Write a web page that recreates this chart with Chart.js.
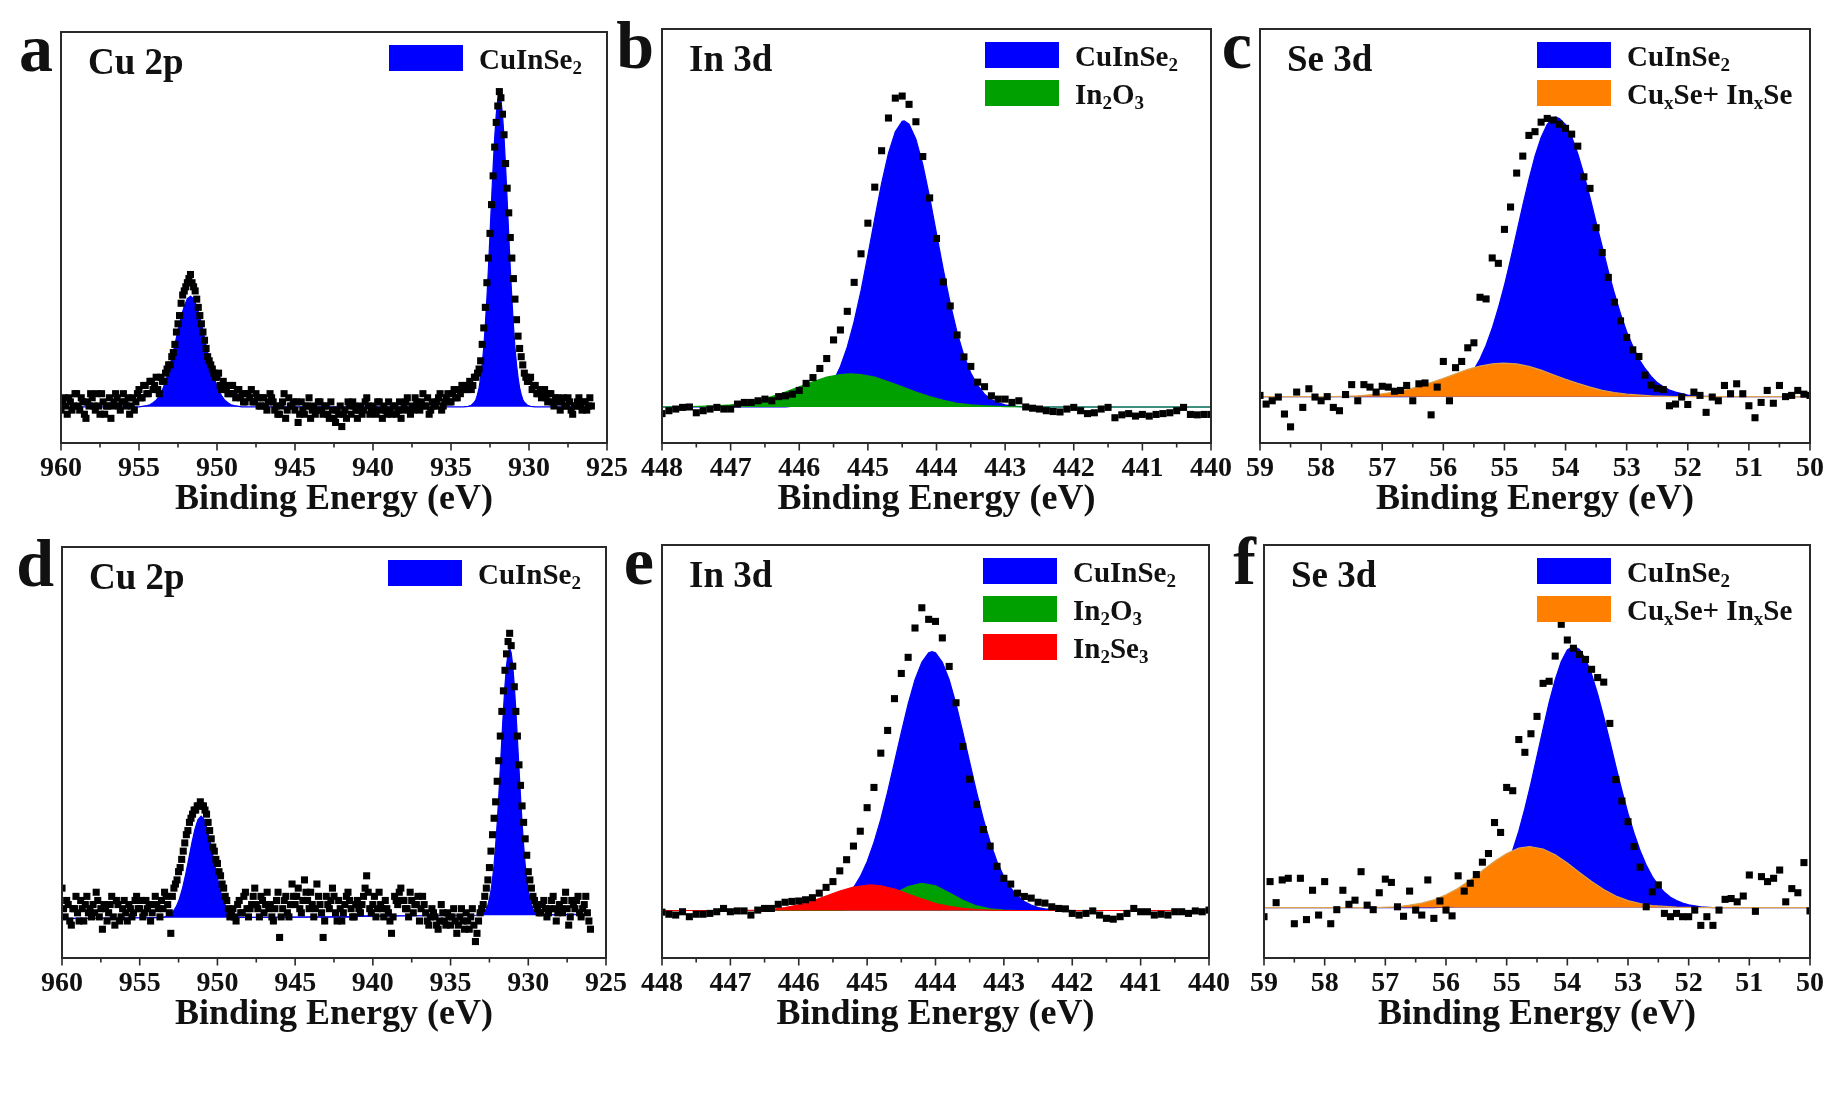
<!DOCTYPE html>
<html>
<head>
<meta charset="utf-8">
<script src="https://cdn.jsdelivr.net/npm/chart.js@4.4.1/dist/chart.umd.min.js"></script>
<style>
  body { margin: 0; background: #fff; }
  #fig { position: relative; width: 1832px; height: 1106px; background: #fff; }
  #fig canvas { position: absolute; }
</style>
</head>
<body>
<div id="fig"></div>
<script>
// measured spectra (counts in % of the plot height), uniform energy steps
const cuCountsA = [ // 960.0 -> 926.0, step -0.1 eV (one row per eV)
  8,10,11,9,7,11,10,8,9,12,
  12,9,8,11,10,7,6,10,9,12,
  11,9,8,12,9,7,12,10,7,9,
  9,11,6,9,10,12,11,9,8,10,
  12,10,9,11,7,9,11,8,10,12,
  13,11,11,14,14,12,12,15,15,13,
  14,16,13,12,16,15,15,17,18,19,
  19,21,22,24,27,29,31,34,36,37,
  38,39,40,41,39,38,37,35,33,31,
  29,27,25,23,21,20,19,18,17,16,
  16,17,14,13,15,14,13,12,12,14,
  14,12,11,13,13,11,12,10,10,12,
  12,11,13,10,10,12,11,9,9,11,
  11,9,8,10,12,11,10,8,9,7,
  7,9,10,12,6,8,11,9,9,10,
  8,10,5,7,10,8,7,9,9,11,
  6,8,9,7,8,10,10,8,7,9,
  9,7,6,10,8,6,5,8,7,9,
  4,7,8,6,10,9,7,10,9,8,
  6,8,9,7,8,10,11,9,7,8,
  9,8,7,10,10,8,6,9,8,7,
  10,8,7,9,9,7,8,10,6,8,
  9,10,11,8,7,9,8,11,10,9,
  8,10,12,9,9,11,7,8,10,9,
  9,10,11,12,8,9,10,11,12,10,
  10,12,13,11,11,13,12,14,14,13,
  13,14,15,13,14,16,16,17,18,20,
  24,28,33,39,45,51,58,65,72,78,
  82,85.5,84,80,75,68,62,56,50,45,
  40,35,30,26,23,21,19,17,16,15,
  15,16,13,14,14,12,12,13,11,12,
  13,11,10,12,12,10,9,11,11,10,
  8,10,11,9,9,11,10,8,7,9,
  9,10,11,9,8,10,10,8,9,11,
  9
];
const cuCountsD = [ // 960.0 -> 926.0, step -0.1 eV (one row per eV)
  17,12,10,14,13,9,8,12,12,15,
  11,9,14,12,9,13,15,11,12,10,
  13,11,16,14,10,12,7,13,12,9,
  11,13,15,10,8,14,13,9,10,12,
  14,11,9,13,12,10,11,14,15,12,
  12,14,10,11,14,12,13,9,11,13,
  15,13,12,10,14,12,16,15,13,11,
  6,15,17,18,19,21,22,24,26,28,
  30,31,33,34,35,36,36,37,37,38,
  37,37,36,35,33,31,29,27,26,24,
  23,21,20,18,17,15,14,12,10,11,
  12,10,9,13,14,11,11,15,16,12,
  10,12,13,15,17,13,12,10,15,14,
  11,13,16,12,13,10,9,12,14,16,
  5,10,12,14,15,11,10,13,18,15,
  13,15,17,12,11,14,19,16,14,12,
  16,13,10,12,18,15,13,11,5,9,
  15,13,12,14,17,15,11,9,14,12,
  9,11,13,15,16,14,12,10,10,13,
  14,12,11,13,15,17,20,16,12,11,
  13,15,10,12,16,13,12,10,14,12,
  11,9,6,10,15,14,13,16,17,14,
  14,12,12,10,16,14,11,13,13,15,
  9,12,15,13,11,9,8,10,12,11,
  10,8,7,9,13,11,9,8,11,10,
  8,10,12,9,6,8,10,12,9,7,
  11,9,7,10,12,8,4,6,9,11,
  12,13,15,17,19,22,26,30,34,38,
  43,48,54,60,65,70,74,77,79,76,
  71,66,60,54,47,42,37,33,29,25,
  21,19,17,15,14,13,12,11,11,13,
  14,12,10,11,12,14,15,12,9,11,
  13,12,11,14,16,12,8,10,14,13,
  12,14,15,11,10,12,13,15,11,9,
  7
];
const inCountsB = [ // 448.0 -> 440.0, step -0.1 eV
  7.1,7.8,8.2,8.6,8.7, 7.3,7.8,8.2,8.6,8.2,
  8.2,9.4,9.8,9.8,10.2, 10.6,10.2,11.2,11.4,11.8,
  12.7,14.4,15.8,18.0,20.4, 24.9,27.3,31.8,38.8,45.7,
  53.1,61.8,70.6,78.5,83.3, 83.8,81.8,77.6,69.2,59.2,
  49.4,38.9,33.1,26.1,20.8, 18.5,14.7,13.6,11.4,10.6,
  10.6,9.8,10.2,8.7,8.4, 8.2,7.8,7.6,7.5,8.2,
  8.6,7.8,7.1,7.3,8.2, 8.6,6.1,6.8,7.1,6.5,
  6.9,6.5,6.9,7.1,7.3, 7.8,8.6,6.9,6.8,6.9,
  6.9
];
const inCountsE = [ // 448.0 -> 440.0, step -0.1 eV
  11.1,10.6,10.4,11.2,10.0, 10.6,10.6,10.8,11.2,12.0,
  11.2,11.4,11.4,10.4,11.6, 12.0,12.0,13.0,13.5,13.7,
  13.8,14.1,14.6,15.7,17.1, 18.5,21.1,23.8,27.1,30.7,
  36.4,41.3,49.6,55.1,62.8, 68.9,72.8,79.9,84.8,82.0,
  81.5,77.5,70.6,61.8,51.2, 43.3,37.2,31.1,27.1,22.2,
  19.3,17.9,15.7,14.9,14.5, 13.5,13.3,12.4,12.0,11.9,
  10.8,10.4,10.8,11.4,10.4, 9.6,9.4,10.0,10.8,12.0,
  11.2,11.2,10.4,10.6,10.4, 11.2,11.2,10.8,11.4,11.2,
  11.6
];
const seCountsC = [ // 59.0 -> 50.0, step -0.1 eV
  11.5,9.4,10.2,11.1,7.0, 3.9,12.3,8.6,13.1,11.1,
  10.2,11.2,8.6,7.8,11.7, 14.1,10.2,14.1,13.5,12.3,
  13.7,13.5,12.5,12.7,13.9, 10.2,14.3,14.5,6.8,13.5,
  19.7,10.2,18.2,19.7,23.0, 24.2,35.2,34.8,44.7,43.4,
  51.6,57.0,65.2,69.3,74.3, 75.2,77.5,78.4,78.0,77.0,
  76.0,74.6,71.7,64.3,61.5, 52.0,46.0,40.0,34.0,29.5,
  25.5,22.5,20.9,16.4,14.0, 13.2,12.9,9.0,9.4,11.1,
  9.3,12.3,11.5,7.4,11.1, 10.2,13.9,11.9,14.3,11.9,
  9.0,6.1,9.8,12.7,9.6, 13.9,11.2,11.5,12.7,11.8,
  11.5
];
const seCountsF = [ // 59.0 -> 50.0, step -0.1 eV
  10.0,18.5,13.4,18.9,19.3, 8.3,19.3,9.3,16.4,10.4,
  18.5,8.3,11.7,16.4,13.0, 14.0,20.9,12.8,11.7,15.8,
  19.1,18.3,12.4,10.1,16.2, 11.6,10.4,18.9,9.6,13.8,
  11.6,10.2,19.9,16.2,18.1, 20.2,23.2,25.3,32.8,30.4,
  41.3,40.5,52.9,49.8,54.3, 58.5,66.5,67.0,73.1,80.8,
  77.0,75.0,73.5,72.3,69.9, 67.9,66.8,56.8,43.2,38.0,
  33.0,27.0,22.0,12.4,16.0, 17.7,10.8,10.0,10.8,10.0,
  10.0,11.6,7.9,10.0,7.9, 11.6,14.2,14.4,13.6,15.0,
  20.1,11.3,19.7,18.5,19.3, 21.3,13.6,16.8,15.8,23.1,
  11.4
];

// fitted components, [energy, %]
const cuFitA = [[960,8.8],[955.0,8.8],[954.5,9.1],[954.3,9.3],[954.1,9.8],[953.9,10.4],[953.7,11.5],[953.5,12.9],[953.3,14.9],[953.1,17.5],[952.9,20.5],[952.7,23.9],[952.5,27.4],[952.3,30.6],[952.1,33.3],[951.9,35.1],[951.7,35.7],[951.5,35.1],[951.3,33.3],[951.1,30.6],[950.9,27.4],[950.7,23.9],[950.5,20.5],[950.3,17.5],[950.1,14.9],[949.9,12.9],[949.7,11.5],[949.5,10.4],[949.3,9.8],[949.1,9.3],[948.9,9.1],[948.4,8.8],
  [934.2,8.8],[933.9,8.9],[933.7,9.2],[933.5,9.9],[933.4,10.6],[933.3,11.8],[933.2,13.4],[933.1,15.9],[933.0,19.1],[932.9,23.3],[932.8,28.7],[932.7,35.2],[932.6,42.6],[932.5,50.8],[932.4,59.1],[932.3,67.2],[932.2,74.3],[932.1,79.9],[932.0,83.6],[931.9,84.8],[931.8,83.6],[931.7,79.9],[931.6,74.3],[931.5,67.2],[931.4,59.1],[931.3,50.8],[931.2,42.6],[931.1,35.2],[931.0,28.7],[930.9,23.3],[930.8,19.1],[930.7,15.9],[930.6,13.4],[930.5,11.8],[930.4,10.6],[930.3,9.9],[930.1,9.2],[929.9,8.9],[929.6,8.8],[926,8.8]];
const cuFitD1 = [[960,9.6],[953.6,9.8],[953.25,10.2],[953.05,10.6],[952.85,11.3],[952.65,12.5],[952.45,14.3],[952.25,16.9],[952.05,20.2],[951.85,24.0],[951.65,27.9],[951.45,31.3],[951.25,33.7],[951.05,34.5],[950.85,33.7],[950.65,31.3],[950.45,27.9],[950.25,24.0],[950.05,20.2],[949.85,16.9],[949.65,14.3],[949.45,12.5],[949.25,11.3],[949.05,10.6],[948.85,10.2],[948.5,9.9],[941,10.1]];
const cuFitD2 = [[941,10.1],[933.4,10.4],[933.2,10.5],[933.0,10.7],[932.8,11.3],[932.7,12.0],[932.6,12.9],[932.5,14.4],[932.4,16.4],[932.3,19.2],[932.2,22.8],[932.1,27.4],[932.0,32.9],[931.9,39.3],[931.8,46.2],[931.7,53.4],[931.6,60.2],[931.5,66.3],[931.4,71.1],[931.3,74.3],[931.2,75.3],[931.1,74.3],[931.0,71.1],[930.9,66.3],[930.8,60.2],[930.7,53.4],[930.6,46.2],[930.5,39.3],[930.4,32.9],[930.3,27.4],[930.2,22.8],[930.1,19.2],[930.0,16.4],[929.9,14.4],[929.8,12.9],[929.7,12.0],[929.6,11.3],[929.4,10.7],[929.2,10.5],[929.0,10.5],[926,10.7]];
const inFitBBlue = [[448,8.7],[446.2,8.7],[446.0,9.0],[445.9,9.4],[445.8,10.0],[445.7,11.0],[445.6,12.5],[445.5,15.0],[445.4,18.5],[445.3,23.2],[445.2,29.4],[445.1,36.8],[445.0,45.3],[444.9,54.2],[444.8,62.7],[444.7,70.0],[444.6,75.2],[444.5,77.7],[444.47,77.8],[444.4,77.0],[444.3,73.4],[444.2,67.3],[444.1,59.4],[444.0,50.6],[443.9,41.8],[443.8,33.7],[443.7,26.7],[443.6,21.1],[443.5,16.9],[443.4,13.9],[443.3,11.8],[443.2,10.5],[443.1,9.7],[443.0,9.2],[442.9,8.9],[442.7,8.7],[440,8.7]];
const inFitBGreen = [[448,8.7],[447.6,8.8],[447.2,9.0],[447.0,9.2],[446.8,9.6],[446.6,10.3],[446.4,11.2],[446.2,12.3],[446.0,13.6],[445.8,14.8],[445.6,15.9],[445.4,16.5],[445.25,16.7],[445.1,16.5],[444.9,15.9],[444.7,14.8],[444.5,13.6],[444.3,12.3],[444.1,11.2],[443.9,10.3],[443.7,9.6],[443.5,9.2],[443.3,9.0],[443.0,8.8],[442.6,8.7],[440,8.7]];
const seFitCBlue = [[59,11.2],[56.6,11.2],[56.4,11.3],[56.2,11.5],[56.0,12.0],[55.9,12.5],[55.8,13.2],[55.7,14.3],[55.6,15.7],[55.5,17.7],[55.4,20.3],[55.3,23.6],[55.2,27.7],[55.1,32.6],[55.0,38.1],[54.9,44.3],[54.8,50.8],[54.7,57.4],[54.6,63.6],[54.5,69.3],[54.4,73.8],[54.3,77.0],[54.2,78.6],[54.16,78.7],[54.1,78.4],[54.0,76.9],[53.9,74.0],[53.8,69.9],[53.7,64.9],[53.6,59.3],[53.5,53.3],[53.4,47.4],[53.3,41.5],[53.2,36.1],[53.1,31.2],[53.0,26.9],[52.9,23.4],[52.8,20.3],[52.7,18.0],[52.6,16.1],[52.5,14.6],[52.4,13.6],[52.3,12.8],[52.2,12.3],[52.0,11.6],[51.8,11.3],[51.5,11.2],[50,11.2]];
const seFitCOrange = [[59,11.2],[57.8,11.2],[57.4,11.4],[57.0,11.9],[56.8,12.3],[56.6,12.9],[56.4,13.6],[56.2,14.6],[56.0,15.6],[55.8,16.7],[55.6,17.8],[55.4,18.6],[55.2,19.1],[55.02,19.3],[54.8,19.1],[54.6,18.5],[54.4,17.6],[54.2,16.5],[54.0,15.4],[53.8,14.4],[53.6,13.5],[53.4,12.7],[53.2,12.2],[53.0,11.8],[52.6,11.4],[52.2,11.2],[50,11.2]];
const inFitEBlue = [[448,11.5],[446.0,11.5],[445.7,11.9],[445.6,12.2],[445.5,12.8],[445.4,13.7],[445.3,15.0],[445.2,17.0],[445.1,19.7],[445.0,23.3],[444.9,28.0],[444.8,33.6],[444.7,40.2],[444.6,47.4],[444.5,54.6],[444.4,61.5],[444.3,67.4],[444.2,71.6],[444.1,73.9],[444.05,74.2],[444.0,73.9],[443.9,71.6],[443.8,67.4],[443.7,61.5],[443.6,54.6],[443.5,47.4],[443.4,40.2],[443.3,33.6],[443.2,28.0],[443.1,23.3],[443.0,19.7],[442.9,17.0],[442.8,15.0],[442.7,13.7],[442.6,12.8],[442.5,12.2],[442.4,11.9],[442.2,11.6],[442.0,11.5],[440,11.5]];
const inFitEGreen = [[448,11.5],[445.6,11.5],[445.4,11.6],[445.2,11.9],[445.0,12.5],[444.8,13.8],[444.6,15.6],[444.4,17.3],[444.2,18.1],[444.0,17.5],[443.8,15.8],[443.6,14.0],[443.4,12.6],[443.2,11.9],[443.0,11.6],[442.8,11.5],[440,11.5]];
const inFitERed = [[448,11.5],[447.0,11.5],[446.6,11.6],[446.4,11.8],[446.2,12.2],[446.0,12.9],[445.8,13.8],[445.6,15.0],[445.4,16.2],[445.2,17.2],[444.96,17.7],[444.8,17.5],[444.6,16.7],[444.4,15.5],[444.2,14.3],[444.0,13.2],[443.8,12.5],[443.6,12.0],[443.4,11.7],[443.0,11.5],[440,11.5]];
const seFitFBlue = [[59,12.2],[56.2,12.2],[55.8,12.5],[55.6,13.0],[55.5,13.5],[55.4,14.3],[55.3,15.4],[55.2,17.1],[55.1,19.3],[55.0,22.3],[54.9,26.1],[54.8,30.7],[54.7,36.2],[54.6,42.3],[54.5,48.9],[54.4,55.5],[54.3,61.9],[54.2,67.4],[54.1,71.8],[54.0,74.6],[53.9,75.5],[53.8,74.7],[53.7,72.4],[53.6,68.7],[53.5,63.9],[53.4,58.4],[53.3,52.5],[53.2,46.4],[53.1,40.5],[53.0,35.0],[52.9,30.2],[52.8,26.0],[52.7,22.5],[52.6,19.7],[52.5,17.6],[52.4,15.9],[52.3,14.7],[52.2,13.9],[52.1,13.3],[52.0,12.9],[51.8,12.4],[51.6,12.2],[50,12.2]];
const seFitFOrange = [[59,12.2],[57.2,12.2],[56.8,12.4],[56.6,12.8],[56.4,13.3],[56.2,14.1],[56.0,15.3],[55.8,16.9],[55.6,18.9],[55.4,21.2],[55.2,23.4],[55.0,25.3],[54.8,26.6],[54.62,27.0],[54.4,26.4],[54.2,25.0],[54.0,23.0],[53.8,20.7],[53.6,18.5],[53.4,16.6],[53.2,15.0],[53.0,13.9],[52.8,13.2],[52.6,12.7],[52.2,12.3],[51.8,12.2],[50,12.2]];

const FAM = '"Liberation Serif", "Times New Roman", Times, serif';
const BLUE = '#0000ff', GREEN = '#00a000', RED = '#ff0000', ORANGE = '#ff7f00';

const LEG_CIS = [['CuInSe', 0], ['2', 1]];
const LEG_INO = [['In', 0], ['2', 1], ['O', 0], ['3', 1]];
const LEG_INSE = [['In', 0], ['2', 1], ['Se', 0], ['3', 1]];
const LEG_CUSE = [['Cu', 0], ['x', 1], ['Se+ In', 0], ['x', 1], ['Se', 0]];

const panels = [
  { letter: 'a', title: 'Cu 2p', box: [61, 32, 607, 443], min: 925, max: 960, major: 5, minor: 2.5,
    counts: cuCountsA, start: 960, step: -0.1, radius: 5,
    fits: [{ d: cuFitA, c: BLUE, base: 8.8 }],
    legend: [[BLUE, LEG_CIS]], legX: 218 },
  { letter: 'b', title: 'In 3d', box: [662, 29, 1211, 443], min: 440, max: 448, major: 1, minor: 0.5,
    counts: inCountsB, start: 448, step: -0.1, radius: 5,
    fits: [{ d: inFitBBlue, c: BLUE, base: 8.7 }, { d: inFitBGreen, c: GREEN, base: 8.7 }],
    legend: [[BLUE, LEG_CIS], [GREEN, LEG_INO]], legX: 226 },
  { letter: 'c', title: 'Se 3d', box: [1260, 29, 1810, 443], min: 50, max: 59, major: 1, minor: 0.5,
    counts: seCountsC, start: 59, step: -0.1, radius: 5,
    fits: [{ d: seFitCBlue, c: BLUE, base: 11.2 }, { d: seFitCOrange, c: ORANGE, line: '#dca24c', base: 11.2 }],
    legend: [[BLUE, LEG_CIS], [ORANGE, LEG_CUSE]], legX: 273 },
  { letter: 'd', title: 'Cu 2p', box: [62, 547, 606, 958], min: 925, max: 960, major: 5, minor: 2.5,
    counts: cuCountsD, start: 960, step: -0.1, radius: 5,
    fits: [{ d: cuFitD1, c: BLUE, base: 9.8 }, { d: cuFitD2, c: BLUE, base: 10.4 }],
    legend: [[BLUE, LEG_CIS]], legX: 218 },
  { letter: 'e', title: 'In 3d', box: [662, 545, 1209, 958], min: 440, max: 448, major: 1, minor: 0.5,
    counts: inCountsE, start: 448, step: -0.1, radius: 5,
    fits: [{ d: inFitEBlue, c: BLUE, base: 11.5 }, { d: inFitEGreen, c: GREEN, base: 11.5 }, { d: inFitERed, c: RED, base: 11.5 }],
    legend: [[BLUE, LEG_CIS], [GREEN, LEG_INO], [RED, LEG_INSE]], legX: 226 },
  { letter: 'f', title: 'Se 3d', box: [1264, 545, 1810, 958], min: 50, max: 59, major: 1, minor: 0.5,
    counts: seCountsF, start: 59, step: -0.1, radius: 5,
    fits: [{ d: seFitFBlue, c: BLUE, base: 12.2 }, { d: seFitFOrange, c: ORANGE, line: '#dca24c', base: 12.2 }],
    legend: [[BLUE, LEG_CIS], [ORANGE, LEG_CUSE]], legX: 273 }
];

function scan(counts, start, step) {
  return counts.map((y, i) => ({ x: +(start + i * step).toFixed(2), y }));
}
function pairs(list) {
  return list.map(([x, y]) => ({ x, y }));
}

// box, minor ticks, panel letter, title and legend
function deco(p) {
  return {
    id: 'deco' + p.letter,
    afterDraw(chart) {
      const { ctx, chartArea: ca } = chart;
      const xs = chart.scales.x;
      ctx.save();
      ctx.strokeStyle = '#2a2a2a';
      ctx.lineWidth = 2;
      ctx.strokeRect(ca.left, ca.top, ca.right - ca.left, ca.bottom - ca.top);
      ctx.lineWidth = 1.6;
      ctx.beginPath();
      const n = Math.round((p.max - p.min) / p.minor);
      for (let k = 0; k <= n; k++) {
        const px = xs.getPixelForValue(p.min + k * p.minor);
        ctx.moveTo(px, ca.bottom);
        ctx.lineTo(px, ca.bottom + (k % 2 ? 4.5 : 7.5));
      }
      ctx.stroke();

      ctx.fillStyle = '#111';
      ctx.textBaseline = 'alphabetic';
      ctx.textAlign = 'right';
      ctx.font = `bold 68px ${FAM}`;
      ctx.fillText(p.letter, ca.left - 8, ca.top + 39);
      ctx.textAlign = 'left';
      ctx.font = `bold 37px ${FAM}`;
      ctx.fillText(p.title, ca.left + 27, ca.top + 42);

      p.legend.forEach(([color, segs], i) => {
        const rx = ca.right - p.legX, ry = ca.top + 13 + 38 * i;
        ctx.fillStyle = color;
        ctx.fillRect(rx, ry, 74, 26);
        ctx.fillStyle = '#111';
        let tx = rx + 90;
        segs.forEach(([t, sub]) => {
          ctx.font = `bold ${sub ? 19 : 29}px ${FAM}`;
          ctx.fillText(t, tx, ry + 24 + (sub ? 5 : 0));
          tx += ctx.measureText(t).width;
        });
      });
      ctx.restore();
    }
  };
}

const fig = document.getElementById('fig');
const PADL = 60, PADR = 45, PADT = 10, AXIS_H = 78;
panels.forEach(p => {
  const [L, T, R, B] = p.box;
  const W = R - L + PADL + PADR, H = B - T + PADT + AXIS_H;
  const cv = document.createElement('canvas');
  cv.width = W; cv.height = H;
  cv.style.left = (L - PADL) + 'px';
  cv.style.top = (T - PADT) + 'px';
  cv.style.width = W + 'px';
  cv.style.height = H + 'px';
  fig.appendChild(cv);

  const datasets = [{
    data: scan(p.counts, p.start, p.step),
    pointStyle: 'rect', pointRadius: p.radius, backgroundColor: '#000', borderWidth: 0
  }];
  p.fits.slice().reverse().forEach(f => datasets.push({
    data: pairs(f.d), showLine: true, pointRadius: 0, tension: 0,
    borderColor: f.line || f.c, borderWidth: 1.2, backgroundColor: f.c,
    fill: { value: f.base }
  }));

  new Chart(cv, {
    type: 'scatter',
    data: { datasets },
    options: {
      responsive: false, animation: false, events: [],
      layout: { padding: { left: PADL, right: PADR, top: PADT, bottom: 0 } },
      plugins: { legend: { display: false }, tooltip: { enabled: false } },
      scales: {
        x: {
          type: 'linear', reverse: true, min: p.min, max: p.max,
          afterFit(s) { s.height = AXIS_H; },
          grid: { display: false, drawTicks: false },
          border: { display: false },
          ticks: { stepSize: p.major, autoSkip: false, maxRotation: 0, padding: 9, color: '#111',
                   font: { family: FAM, size: 28, weight: 'bold' } },
          title: { display: true, text: 'Binding Energy (eV)', color: '#111', padding: 0,
                   font: { family: FAM, size: 36, weight: 'bold' } }
        },
        y: { display: false, min: 0, max: 100 }
      }
    },
    plugins: [deco(p)]
  });
});
</script>
</body>
</html>
